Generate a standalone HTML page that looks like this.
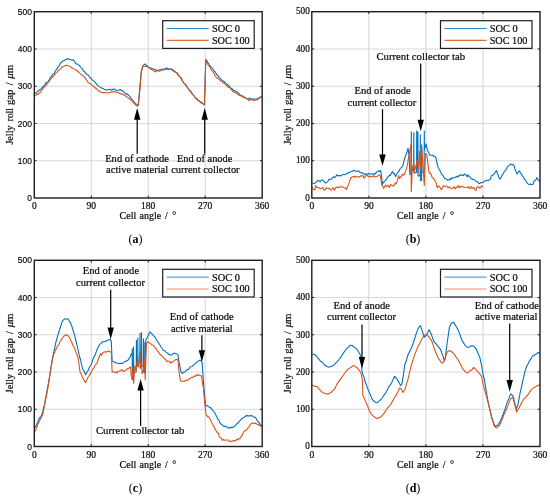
<!DOCTYPE html>
<html><head><meta charset="utf-8"><title>Jelly roll gap vs cell angle</title>
<style>html,body{margin:0;padding:0;background:#fff;width:550px;height:497px;overflow:hidden}svg{display:block}</style>
</head><body>
<svg width="550" height="497" viewBox="0 0 550 497"><defs><clipPath id="cla"><rect x="34.3" y="11.7" width="227.9" height="186.3"/></clipPath><clipPath id="clb"><rect x="311.8" y="11.7" width="228.2" height="186.3"/></clipPath><clipPath id="clc"><rect x="34.3" y="260.3" width="227.9" height="186.2"/></clipPath><clipPath id="cld"><rect x="311.8" y="260.3" width="228.2" height="186.2"/></clipPath></defs><rect width="550" height="497" fill="#fff"/><line x1="91.27" y1="11.70" x2="91.27" y2="198.00" stroke="#d9d9d9" stroke-width="1.15"/>
<line x1="148.25" y1="11.70" x2="148.25" y2="198.00" stroke="#d9d9d9" stroke-width="1.15"/>
<line x1="205.22" y1="11.70" x2="205.22" y2="198.00" stroke="#d9d9d9" stroke-width="1.15"/>
<line x1="34.30" y1="160.74" x2="262.20" y2="160.74" stroke="#d9d9d9" stroke-width="1.15"/>
<line x1="34.30" y1="123.48" x2="262.20" y2="123.48" stroke="#d9d9d9" stroke-width="1.15"/>
<line x1="34.30" y1="86.22" x2="262.20" y2="86.22" stroke="#d9d9d9" stroke-width="1.15"/>
<line x1="34.30" y1="48.96" x2="262.20" y2="48.96" stroke="#d9d9d9" stroke-width="1.15"/>
<polyline points="34.5,94.0 35.6,92.9 36.7,92.5 37.7,91.3 38.8,90.5 39.9,89.8 40.9,89.3 42.0,87.8 43.1,86.4 44.2,85.4 45.3,84.5 46.1,82.3 47.1,82.1 48.1,81.8 49.1,80.0 50.1,78.4 51.7,75.8 52.9,74.0 54.1,73.5 55.3,71.0 56.5,69.6 57.8,67.6 59.0,66.0 60.6,62.7 61.8,62.2 63.0,60.7 64.2,60.5 65.4,59.7 66.6,59.4 67.8,58.3 69.0,59.3 70.2,59.6 71.3,59.7 72.3,60.3 73.4,59.8 74.7,61.9 76.1,64.0 77.4,64.0 78.7,64.9 79.9,66.1 81.1,67.8 82.3,68.8 83.5,71.2 84.7,71.8 85.9,73.3 87.1,74.7 88.3,75.0 90.0,77.7 91.2,78.4 92.4,80.1 93.6,80.9 94.8,82.1 96.0,83.3 97.3,85.1 98.5,86.1 99.7,86.9 100.9,87.3 102.1,88.3 103.3,88.6 104.5,89.4 105.7,89.9 107.2,90.0 108.7,89.5 110.2,89.2 111.7,90.2 113.0,89.3 114.2,88.9 115.4,89.8 116.6,90.5 117.8,90.7 119.0,89.9 120.2,89.5 121.4,90.7 122.6,90.5 123.8,92.1 125.0,93.2 126.2,94.1 127.4,93.9 128.6,95.6 129.9,96.3 131.1,98.5 132.3,99.7 133.5,101.4 134.7,102.7 135.9,104.0 137.1,104.4 138.3,105.4 140.1,84.1 141.3,71.0 143.1,65.3 144.1,64.6 145.0,64.0 145.9,64.9 146.8,65.3 148.6,67.4 149.8,68.0 151.1,68.1 152.3,68.8 153.5,69.0 154.7,69.6 155.9,69.7 157.1,70.5 158.3,70.2 159.5,69.8 160.7,70.0 161.9,68.8 163.1,70.0 164.3,68.9 165.5,68.3 166.7,68.1 167.9,68.6 169.1,68.9 170.4,69.1 171.6,69.1 172.7,69.6 173.7,70.8 174.8,71.0 175.8,72.5 177.2,72.9 178.6,75.2 180.0,76.9 181.2,77.7 182.4,80.5 183.7,83.1 184.9,83.7 186.1,85.4 187.3,87.4 188.5,88.7 189.7,90.5 190.9,91.2 192.1,93.2 193.3,95.0 194.5,96.4 195.7,98.1 196.9,98.2 198.1,100.3 199.2,100.6 200.3,102.0 201.5,102.0 202.6,103.6 203.6,104.2 204.5,105.0 205.1,82.0 205.8,59.2 206.8,60.6 207.7,62.4 209.0,64.2 210.3,66.1 211.6,67.6 212.9,69.0 214.1,70.8 215.4,72.2 216.7,74.8 218.0,75.6 219.3,77.6 220.6,79.0 221.9,80.1 223.1,81.0 224.4,81.7 225.7,83.4 227.0,84.2 228.3,85.5 229.6,86.5 230.9,88.2 232.2,88.7 233.4,90.6 234.7,90.6 236.0,91.3 237.3,92.2 238.6,93.4 239.9,94.7 241.2,95.3 242.5,96.0 243.8,96.6 245.0,97.4 246.3,98.3 247.6,99.2 248.9,98.4 250.2,98.4 251.5,99.2 252.8,98.8 254.1,99.5 255.3,99.0 256.6,98.7 257.9,98.3 259.2,97.7 260.5,96.9 262.0,96.3" fill="none" stroke="#0072BD" stroke-width="1.10" stroke-linejoin="round" clip-path="url(#cla)"/>
<polyline points="34.5,95.8 35.7,95.7 36.8,93.8 38.0,94.5 39.3,92.9 40.7,92.0 42.0,89.8 43.4,88.0 44.7,86.7 46.1,85.1 47.4,83.1 48.8,81.9 50.1,79.7 51.4,78.0 52.8,76.5 54.1,75.4 55.4,73.4 56.8,72.4 58.1,71.0 59.5,69.7 60.8,68.6 62.2,66.9 63.5,66.6 64.9,65.8 66.2,65.4 67.4,65.5 68.6,65.8 69.7,66.0 70.7,66.9 71.8,67.9 72.9,68.2 74.0,68.9 75.2,69.3 76.3,70.1 77.5,71.0 78.7,72.2 79.9,73.4 81.1,74.2 82.3,75.7 83.5,75.7 84.7,77.8 85.9,79.0 87.1,80.8 88.3,82.7 90.0,83.3 91.2,84.5 92.4,85.3 93.6,86.5 94.8,87.5 96.0,88.5 97.2,89.6 98.5,90.5 99.7,91.7 100.9,91.9 102.1,92.6 103.3,92.6 104.5,92.6 105.7,92.8 106.9,92.7 108.1,93.1 109.3,92.6 110.5,92.3 111.8,91.8 113.0,92.1 114.2,91.5 115.4,91.8 116.6,92.5 117.8,92.5 119.0,92.9 120.2,93.7 121.4,93.6 122.6,94.6 123.8,94.7 125.0,95.4 126.2,96.5 127.4,97.3 128.6,97.9 129.8,99.4 131.1,100.0 132.3,101.0 133.5,103.0 134.7,104.1 135.9,105.4 137.1,106.3 138.3,104.4 140.1,88.1 141.3,72.4 143.1,65.9 144.3,66.2 145.6,66.4 146.7,66.3 147.7,67.5 148.8,67.5 149.8,68.2 151.0,69.4 152.2,69.5 153.5,70.5 154.7,71.6 155.9,71.6 157.1,70.2 158.3,70.9 159.5,71.3 160.7,70.6 161.9,70.0 163.1,70.0 164.3,69.5 165.5,69.5 166.7,69.1 167.9,69.7 169.1,69.4 170.4,69.4 171.6,69.8 172.7,70.8 173.7,71.4 174.8,71.9 175.8,72.0 177.2,73.9 178.6,75.8 180.0,77.0 181.2,78.7 182.4,81.0 183.7,82.9 184.9,84.0 186.1,85.7 187.3,87.4 188.5,89.3 189.7,91.0 190.9,92.1 192.1,94.2 193.3,95.1 194.5,96.5 195.7,98.1 196.9,99.3 198.1,100.7 199.2,101.1 200.3,102.1 201.5,103.3 202.6,103.5 204.3,104.3 205.1,83.1 205.8,60.0 206.9,62.4 207.9,64.5 209.0,65.8 210.3,67.5 211.6,70.7 212.8,71.0 214.1,74.0 215.4,76.0 216.7,77.9 218.0,78.4 219.3,79.6 220.6,80.8 221.9,81.4 223.1,82.9 224.4,83.5 225.7,84.9 226.8,85.4 227.9,87.1 229.0,87.5 230.2,88.0 231.3,89.7 232.4,91.0 233.5,91.9 234.8,92.6 236.1,93.0 237.3,93.9 238.6,95.0 239.9,95.5 241.2,96.0 242.5,96.8 243.8,97.6 245.1,98.0 246.3,98.3 247.6,98.9 248.9,100.8 250.2,99.5 251.5,99.7 252.8,99.9 254.0,100.9 255.3,99.9 256.6,100.0 258.0,99.4 259.3,98.0 260.6,97.6 262.0,97.0" fill="none" stroke="#D95319" stroke-width="1.10" stroke-linejoin="round" clip-path="url(#cla)"/>
<line x1="137.20" y1="153.80" x2="137.20" y2="118.70" stroke="#000" stroke-width="1.2"/>
<polygon points="134.00,119.70 140.40,119.70 137.20,108.10" fill="#000"/>
<line x1="204.70" y1="153.80" x2="204.70" y2="118.70" stroke="#000" stroke-width="1.2"/>
<polygon points="201.50,119.70 207.90,119.70 204.70,108.10" fill="#000"/>
<text x="105.2" y="161.5" font-size="9.70" text-anchor="start" font-family="'Liberation Serif', serif" textLength="63.7" lengthAdjust="spacingAndGlyphs" stroke="#222" stroke-width="0.22">End of cathode</text>
<text x="106.1" y="173.0" font-size="9.70" text-anchor="start" font-family="'Liberation Serif', serif" textLength="62.1" lengthAdjust="spacingAndGlyphs" stroke="#222" stroke-width="0.22">active material</text>
<text x="177.0" y="161.5" font-size="9.70" text-anchor="start" font-family="'Liberation Serif', serif" textLength="55.3" lengthAdjust="spacingAndGlyphs" stroke="#222" stroke-width="0.22">End of anode</text>
<text x="171.2" y="173.0" font-size="9.70" text-anchor="start" font-family="'Liberation Serif', serif" textLength="68.4" lengthAdjust="spacingAndGlyphs" stroke="#222" stroke-width="0.22">current collector</text>
<line x1="91.27" y1="198.00" x2="91.27" y2="195.70" stroke="#1e1e1e" stroke-width="1"/>
<line x1="91.27" y1="11.70" x2="91.27" y2="14.00" stroke="#1e1e1e" stroke-width="1"/>
<line x1="148.25" y1="198.00" x2="148.25" y2="195.70" stroke="#1e1e1e" stroke-width="1"/>
<line x1="148.25" y1="11.70" x2="148.25" y2="14.00" stroke="#1e1e1e" stroke-width="1"/>
<line x1="205.22" y1="198.00" x2="205.22" y2="195.70" stroke="#1e1e1e" stroke-width="1"/>
<line x1="205.22" y1="11.70" x2="205.22" y2="14.00" stroke="#1e1e1e" stroke-width="1"/>
<line x1="34.30" y1="160.74" x2="36.60" y2="160.74" stroke="#1e1e1e" stroke-width="1"/>
<line x1="262.20" y1="160.74" x2="259.90" y2="160.74" stroke="#1e1e1e" stroke-width="1"/>
<line x1="34.30" y1="123.48" x2="36.60" y2="123.48" stroke="#1e1e1e" stroke-width="1"/>
<line x1="262.20" y1="123.48" x2="259.90" y2="123.48" stroke="#1e1e1e" stroke-width="1"/>
<line x1="34.30" y1="86.22" x2="36.60" y2="86.22" stroke="#1e1e1e" stroke-width="1"/>
<line x1="262.20" y1="86.22" x2="259.90" y2="86.22" stroke="#1e1e1e" stroke-width="1"/>
<line x1="34.30" y1="48.96" x2="36.60" y2="48.96" stroke="#1e1e1e" stroke-width="1"/>
<line x1="262.20" y1="48.96" x2="259.90" y2="48.96" stroke="#1e1e1e" stroke-width="1"/>
<rect x="34.30" y="11.70" width="227.90" height="186.30" fill="none" stroke="#1e1e1e" stroke-width="1.4"/>
<rect x="162.70" y="20.70" width="91.50" height="27.70" fill="#fff" stroke="#1e1e1e" stroke-width="1.2"/>
<line x1="166.70" y1="28.50" x2="208.70" y2="28.50" stroke="#0072BD" stroke-width="1.1" stroke-opacity="0.85"/>
<line x1="166.70" y1="40.40" x2="208.70" y2="40.40" stroke="#D95319" stroke-width="1.1" stroke-opacity="0.85"/>
<text x="211.9" y="31.9" font-size="10.00" text-anchor="start" font-family="'Liberation Serif', serif" textLength="28.0" lengthAdjust="spacingAndGlyphs" stroke="#222" stroke-width="0.22">SOC 0</text>
<text x="211.9" y="43.7" font-size="10.00" text-anchor="start" font-family="'Liberation Serif', serif" textLength="37.7" lengthAdjust="spacingAndGlyphs" stroke="#222" stroke-width="0.22">SOC 100</text>
<text x="34.3" y="209.1" font-size="9.50" text-anchor="middle" font-family="'Liberation Serif', serif" stroke="#222" stroke-width="0.22">0</text>
<text x="91.3" y="209.1" font-size="9.50" text-anchor="middle" font-family="'Liberation Serif', serif" stroke="#222" stroke-width="0.22">90</text>
<text x="148.2" y="209.1" font-size="9.50" text-anchor="middle" font-family="'Liberation Serif', serif" stroke="#222" stroke-width="0.22">180</text>
<text x="205.2" y="209.1" font-size="9.50" text-anchor="middle" font-family="'Liberation Serif', serif" stroke="#222" stroke-width="0.22">270</text>
<text x="262.2" y="209.1" font-size="9.50" text-anchor="middle" font-family="'Liberation Serif', serif" stroke="#222" stroke-width="0.22">360</text>
<text x="31.9" y="201.0" font-size="9.30" text-anchor="end" font-family="'Liberation Sans', sans-serif" textLength="4.7" lengthAdjust="spacingAndGlyphs" stroke="#222" stroke-width="0.22">0</text>
<text x="31.9" y="163.7" font-size="9.30" text-anchor="end" font-family="'Liberation Sans', sans-serif" textLength="14.1" lengthAdjust="spacingAndGlyphs" stroke="#222" stroke-width="0.22">100</text>
<text x="31.9" y="126.5" font-size="9.30" text-anchor="end" font-family="'Liberation Sans', sans-serif" textLength="14.1" lengthAdjust="spacingAndGlyphs" stroke="#222" stroke-width="0.22">200</text>
<text x="31.9" y="89.2" font-size="9.30" text-anchor="end" font-family="'Liberation Sans', sans-serif" textLength="14.1" lengthAdjust="spacingAndGlyphs" stroke="#222" stroke-width="0.22">300</text>
<text x="31.9" y="52.0" font-size="9.30" text-anchor="end" font-family="'Liberation Sans', sans-serif" textLength="14.1" lengthAdjust="spacingAndGlyphs" stroke="#222" stroke-width="0.22">400</text>
<text x="31.9" y="14.7" font-size="9.30" text-anchor="end" font-family="'Liberation Sans', sans-serif" textLength="14.1" lengthAdjust="spacingAndGlyphs" stroke="#222" stroke-width="0.22">500</text>
<text x="119.5" y="219.2" font-size="9.70" text-anchor="start" font-family="'Liberation Serif', serif" textLength="16.8" lengthAdjust="spacingAndGlyphs" stroke="#222" stroke-width="0.22">Cell</text>
<text x="139.5" y="219.2" font-size="9.70" text-anchor="start" font-family="'Liberation Serif', serif" textLength="21.6" lengthAdjust="spacingAndGlyphs" stroke="#222" stroke-width="0.22">angle</text>
<text x="166.3" y="219.2" font-size="9.70" text-anchor="middle" font-family="'Liberation Serif', serif" stroke="#222" stroke-width="0.22">/</text>
<text x="174.3" y="219.2" font-size="9.70" text-anchor="middle" font-family="'Liberation Serif', serif" stroke="#222" stroke-width="0.22">°</text>
<text x="0" y="0" font-size="9.7" text-anchor="middle" font-family="'Liberation Serif', serif" textLength="13.9" lengthAdjust="spacingAndGlyphs" stroke="#222" stroke-width="0.22" transform="translate(12.8,71.8) rotate(-90)"><tspan font-style="italic">μ</tspan>m</text>
<text x="0" y="0" font-size="9.7" text-anchor="middle" font-family="'Liberation Serif', serif" stroke="#222" stroke-width="0.22" transform="translate(12.8,84.0) rotate(-90)">/</text>
<text x="0" y="0" font-size="9.7" text-anchor="middle" font-family="'Liberation Serif', serif" textLength="15.6" lengthAdjust="spacingAndGlyphs" stroke="#222" stroke-width="0.22" transform="translate(12.8,97.3) rotate(-90)">gap</text>
<text x="0" y="0" font-size="9.7" text-anchor="middle" font-family="'Liberation Serif', serif" textLength="13.1" lengthAdjust="spacingAndGlyphs" stroke="#222" stroke-width="0.22" transform="translate(12.8,114.7) rotate(-90)">roll</text>
<text x="0" y="0" font-size="9.7" text-anchor="middle" font-family="'Liberation Serif', serif" textLength="19.2" lengthAdjust="spacingAndGlyphs" stroke="#222" stroke-width="0.22" transform="translate(12.8,135.0) rotate(-90)">Jelly</text>
<text x="135.5" y="243.0" font-size="12" text-anchor="middle" font-family="'Liberation Serif', serif">(<tspan font-weight="bold">a</tspan>)</text>
<line x1="368.85" y1="11.70" x2="368.85" y2="198.00" stroke="#d9d9d9" stroke-width="1.15"/>
<line x1="425.90" y1="11.70" x2="425.90" y2="198.00" stroke="#d9d9d9" stroke-width="1.15"/>
<line x1="482.95" y1="11.70" x2="482.95" y2="198.00" stroke="#d9d9d9" stroke-width="1.15"/>
<line x1="311.80" y1="160.74" x2="540.00" y2="160.74" stroke="#d9d9d9" stroke-width="1.15"/>
<line x1="311.80" y1="123.48" x2="540.00" y2="123.48" stroke="#d9d9d9" stroke-width="1.15"/>
<line x1="311.80" y1="86.22" x2="540.00" y2="86.22" stroke="#d9d9d9" stroke-width="1.15"/>
<line x1="311.80" y1="48.96" x2="540.00" y2="48.96" stroke="#d9d9d9" stroke-width="1.15"/>
<polyline points="312.3,183.3 313.2,183.2 314.2,183.6 315.1,182.9 316.4,182.3 317.6,180.4 318.5,180.8 319.3,180.8 320.2,181.8 321.4,180.1 322.7,180.0 323.8,181.2 324.8,182.3 325.9,183.0 327.0,182.1 328.0,181.4 329.1,178.9 330.1,179.6 331.0,179.2 331.9,178.5 332.9,177.5 333.8,176.5 334.8,177.6 335.8,176.5 336.7,174.8 337.6,176.0 338.4,175.2 339.3,175.9 340.2,175.6 341.2,175.9 342.2,174.9 343.1,174.5 344.1,174.5 345.0,174.8 345.9,174.5 346.9,173.3 347.8,173.4 348.8,172.2 349.8,172.3 350.7,171.9 351.8,171.3 352.8,171.1 353.9,170.1 355.0,171.0 356.1,171.0 357.3,171.5 358.4,171.0 359.3,171.5 360.3,172.6 361.2,172.5 362.2,172.7 363.1,173.3 364.1,174.2 365.1,173.9 366.0,174.5 366.9,173.8 367.9,174.4 368.9,173.5 369.8,174.0 370.8,174.0 371.7,173.7 372.7,174.0 373.6,175.1 374.6,173.4 375.5,173.6 376.4,172.3 377.4,171.3 378.3,170.9 379.2,171.7 380.4,170.5 381.0,172.4 382.5,184.2 383.6,181.9 384.7,181.4 385.6,180.0 386.5,179.5 387.4,177.0 388.3,176.7 389.4,175.1 390.4,175.5 391.4,173.0 392.5,171.5 393.5,173.6 394.5,173.4 395.5,176.7 396.8,174.0 398.0,172.3 399.2,170.7 400.4,168.3 401.6,167.3 402.8,165.8 404.3,159.8 405.3,156.0 406.2,154.3 407.2,151.4 408.0,148.4 409.0,155.1 409.9,174.4 411.1,173.9 411.3,131.8 411.4,169.6 412.5,170.5 413.6,169.6 413.8,132.8 413.9,172.7 414.8,172.9 415.7,172.5 416.6,172.4 416.7,131.0 416.9,168.5 417.8,168.2 417.9,131.8 418.1,176.1 419.1,175.8 420.1,175.0 420.3,134.9 420.4,180.5 421.6,180.4 421.7,144.8 421.9,171.6 423.0,172.2 424.1,172.3 424.3,131.0 424.4,149.6 426.1,143.9 427.5,150.7 428.6,152.4 429.7,155.0 430.8,155.2 431.9,155.2 432.9,155.1 433.9,156.4 434.9,156.4 435.9,157.7 437.2,164.3 438.4,168.0 439.7,170.0 440.9,172.7 442.1,174.9 443.3,175.9 444.5,178.3 445.7,178.6 446.9,179.4 447.8,180.4 448.7,179.7 449.6,178.8 450.5,179.9 451.4,177.9 452.4,178.4 453.3,177.7 454.2,177.6 455.2,177.1 456.1,177.2 457.1,176.1 458.0,177.0 459.0,175.6 459.9,175.4 460.8,174.6 461.7,175.4 462.6,174.9 463.5,175.6 464.4,173.9 465.3,174.7 466.2,175.2 467.1,176.8 468.0,174.7 469.0,176.7 469.9,176.8 470.8,178.1 471.7,178.9 472.6,179.4 473.5,179.2 474.4,179.9 475.3,180.5 476.2,181.3 477.1,181.7 478.0,182.2 478.9,183.6 479.8,183.5 480.7,182.5 481.9,182.8 483.1,182.4 484.4,181.0 485.6,180.9 486.8,180.1 488.0,180.9 489.2,179.7 490.4,179.2 491.3,175.7 492.2,175.6 493.1,174.9 494.1,174.3 495.3,172.1 496.5,170.5 497.7,174.3 498.6,176.4 499.5,178.9 500.4,179.0 501.3,177.0 502.3,174.7 503.3,173.8 504.3,171.4 505.3,170.7 506.3,169.3 507.3,167.0 508.3,165.9 509.4,165.1 510.4,164.0 511.3,164.2 512.2,165.0 513.1,164.5 514.0,165.5 515.0,169.0 516.0,171.6 517.0,174.1 518.2,172.1 519.4,170.9 520.5,172.8 521.5,174.1 522.5,176.2 523.6,177.2 524.5,179.5 525.5,179.9 526.4,182.1 527.3,183.2 528.3,184.1 529.3,184.8 530.3,183.8 531.3,184.7 532.3,184.4 533.3,183.9 534.2,180.7 535.1,180.6 536.0,179.7 536.9,177.6 537.9,179.7 539.0,180.4 540.0,182.3" fill="none" stroke="#0072BD" stroke-width="1.10" stroke-linejoin="round" clip-path="url(#clb)"/>
<polyline points="312.3,187.1 313.1,189.1 313.8,190.0 314.8,189.9 315.7,185.6 316.7,187.4 317.6,187.5 318.6,187.5 319.6,188.4 320.5,188.6 321.5,188.7 322.8,187.6 324.0,189.9 325.2,189.6 326.5,187.9 327.5,188.2 328.4,188.6 329.4,188.2 330.4,189.7 331.4,190.3 332.4,187.9 333.5,188.0 334.5,190.4 335.5,187.8 336.5,187.3 337.5,187.5 338.5,187.0 339.5,187.6 340.5,186.9 341.5,186.3 342.5,187.1 343.6,187.5 344.6,187.9 345.6,188.2 346.5,189.4 347.3,187.0 348.2,185.4 349.4,182.4 350.7,178.0 351.6,177.2 352.4,176.8 353.3,176.2 354.6,177.4 355.8,176.2 356.8,176.8 357.8,177.1 358.9,176.9 359.9,176.6 360.9,175.8 361.9,176.2 362.9,175.3 364.0,178.2 365.0,176.9 366.0,175.2 367.0,175.0 368.0,176.4 369.1,176.9 370.1,176.0 371.1,176.8 372.1,176.8 373.1,176.1 374.2,176.6 375.2,176.9 376.2,176.6 377.4,176.2 378.6,175.4 379.5,175.3 380.4,175.9 381.6,184.6 382.6,185.9 383.7,188.5 384.7,186.7 385.6,185.1 386.5,186.5 387.4,186.1 388.3,185.1 389.5,187.6 390.7,184.6 391.9,185.1 393.1,186.0 394.1,185.8 395.1,183.0 396.1,183.7 397.4,180.6 398.6,175.6 399.6,178.5 400.6,177.0 401.6,176.0 402.5,174.0 403.4,175.3 404.3,174.8 405.4,171.6 406.5,168.6 407.6,163.5 408.7,156.8 410.1,149.3 410.9,145.1 411.3,191.5 412.3,169.2 413.1,165.2 413.8,162.8 414.5,171.4 415.9,166.1 417.4,159.9 418.1,172.9 419.6,151.5 420.3,167.4 421.7,147.1 423.2,168.6 424.3,185.5 425.4,153.9 426.8,154.0 428.5,168.1 429.2,173.3 430.0,172.9 430.9,173.6 431.9,177.0 432.8,178.1 433.7,178.6 434.9,181.0 436.0,182.4 437.2,187.6 438.4,186.1 439.7,186.8 440.6,188.4 441.5,189.6 442.4,187.9 443.3,185.6 444.3,186.1 445.2,186.5 446.2,186.2 447.1,186.2 448.1,187.9 449.1,186.8 450.1,187.4 451.1,188.5 452.2,188.7 453.2,187.6 454.2,186.6 455.2,189.0 456.3,187.4 457.3,187.4 458.3,185.4 459.3,188.0 460.4,186.6 461.4,186.3 462.4,186.5 463.3,187.1 464.3,187.2 465.2,187.5 466.2,187.8 467.2,187.5 468.2,186.6 469.1,188.4 470.1,188.2 471.1,186.6 472.0,188.1 472.9,188.4 473.8,187.5 474.7,189.6 475.9,190.4 477.1,186.7 478.0,187.1 478.9,187.1 479.8,188.5 480.7,187.2 481.9,185.8 483.0,187.1" fill="none" stroke="#D95319" stroke-width="1.10" stroke-linejoin="round" clip-path="url(#clb)"/>
<line x1="420.70" y1="63.40" x2="420.70" y2="120.70" stroke="#000" stroke-width="1.2"/>
<polygon points="417.50,119.70 423.90,119.70 420.70,131.30" fill="#000"/>
<line x1="382.50" y1="109.20" x2="382.50" y2="155.40" stroke="#000" stroke-width="1.2"/>
<polygon points="379.30,154.40 385.70,154.40 382.50,166.00" fill="#000"/>
<text x="376.4" y="60.4" font-size="9.70" text-anchor="start" font-family="'Liberation Serif', serif" textLength="88.8" lengthAdjust="spacingAndGlyphs" stroke="#222" stroke-width="0.22">Current collector tab</text>
<text x="354.5" y="94.2" font-size="9.70" text-anchor="start" font-family="'Liberation Serif', serif" textLength="56.2" lengthAdjust="spacingAndGlyphs" stroke="#222" stroke-width="0.22">End of anode</text>
<text x="347.6" y="105.6" font-size="9.70" text-anchor="start" font-family="'Liberation Serif', serif" textLength="68.7" lengthAdjust="spacingAndGlyphs" stroke="#222" stroke-width="0.22">current collector</text>
<line x1="368.85" y1="198.00" x2="368.85" y2="195.70" stroke="#1e1e1e" stroke-width="1"/>
<line x1="368.85" y1="11.70" x2="368.85" y2="14.00" stroke="#1e1e1e" stroke-width="1"/>
<line x1="425.90" y1="198.00" x2="425.90" y2="195.70" stroke="#1e1e1e" stroke-width="1"/>
<line x1="425.90" y1="11.70" x2="425.90" y2="14.00" stroke="#1e1e1e" stroke-width="1"/>
<line x1="482.95" y1="198.00" x2="482.95" y2="195.70" stroke="#1e1e1e" stroke-width="1"/>
<line x1="482.95" y1="11.70" x2="482.95" y2="14.00" stroke="#1e1e1e" stroke-width="1"/>
<line x1="311.80" y1="160.74" x2="314.10" y2="160.74" stroke="#1e1e1e" stroke-width="1"/>
<line x1="540.00" y1="160.74" x2="537.70" y2="160.74" stroke="#1e1e1e" stroke-width="1"/>
<line x1="311.80" y1="123.48" x2="314.10" y2="123.48" stroke="#1e1e1e" stroke-width="1"/>
<line x1="540.00" y1="123.48" x2="537.70" y2="123.48" stroke="#1e1e1e" stroke-width="1"/>
<line x1="311.80" y1="86.22" x2="314.10" y2="86.22" stroke="#1e1e1e" stroke-width="1"/>
<line x1="540.00" y1="86.22" x2="537.70" y2="86.22" stroke="#1e1e1e" stroke-width="1"/>
<line x1="311.80" y1="48.96" x2="314.10" y2="48.96" stroke="#1e1e1e" stroke-width="1"/>
<line x1="540.00" y1="48.96" x2="537.70" y2="48.96" stroke="#1e1e1e" stroke-width="1"/>
<rect x="311.80" y="11.70" width="228.20" height="186.30" fill="none" stroke="#1e1e1e" stroke-width="1.4"/>
<rect x="440.50" y="20.70" width="91.50" height="27.70" fill="#fff" stroke="#1e1e1e" stroke-width="1.2"/>
<line x1="444.50" y1="28.50" x2="486.50" y2="28.50" stroke="#0072BD" stroke-width="1.1" stroke-opacity="0.85"/>
<line x1="444.50" y1="40.40" x2="486.50" y2="40.40" stroke="#D95319" stroke-width="1.1" stroke-opacity="0.85"/>
<text x="489.7" y="31.9" font-size="10.00" text-anchor="start" font-family="'Liberation Serif', serif" textLength="28.0" lengthAdjust="spacingAndGlyphs" stroke="#222" stroke-width="0.22">SOC 0</text>
<text x="489.7" y="43.7" font-size="10.00" text-anchor="start" font-family="'Liberation Serif', serif" textLength="37.7" lengthAdjust="spacingAndGlyphs" stroke="#222" stroke-width="0.22">SOC 100</text>
<text x="311.8" y="209.1" font-size="9.50" text-anchor="middle" font-family="'Liberation Serif', serif" stroke="#222" stroke-width="0.22">0</text>
<text x="368.9" y="209.1" font-size="9.50" text-anchor="middle" font-family="'Liberation Serif', serif" stroke="#222" stroke-width="0.22">90</text>
<text x="425.9" y="209.1" font-size="9.50" text-anchor="middle" font-family="'Liberation Serif', serif" stroke="#222" stroke-width="0.22">180</text>
<text x="483.0" y="209.1" font-size="9.50" text-anchor="middle" font-family="'Liberation Serif', serif" stroke="#222" stroke-width="0.22">270</text>
<text x="540.0" y="209.1" font-size="9.50" text-anchor="middle" font-family="'Liberation Serif', serif" stroke="#222" stroke-width="0.22">360</text>
<text x="309.8" y="200.7" font-size="9.50" text-anchor="end" font-family="'Liberation Serif', serif" textLength="4.6" lengthAdjust="spacingAndGlyphs" stroke="#222" stroke-width="0.22">0</text>
<text x="309.8" y="163.4" font-size="9.50" text-anchor="end" font-family="'Liberation Serif', serif" textLength="13.8" lengthAdjust="spacingAndGlyphs" stroke="#222" stroke-width="0.22">100</text>
<text x="309.8" y="126.2" font-size="9.50" text-anchor="end" font-family="'Liberation Serif', serif" textLength="13.8" lengthAdjust="spacingAndGlyphs" stroke="#222" stroke-width="0.22">200</text>
<text x="309.8" y="88.9" font-size="9.50" text-anchor="end" font-family="'Liberation Serif', serif" textLength="13.8" lengthAdjust="spacingAndGlyphs" stroke="#222" stroke-width="0.22">300</text>
<text x="309.8" y="51.7" font-size="9.50" text-anchor="end" font-family="'Liberation Serif', serif" textLength="13.8" lengthAdjust="spacingAndGlyphs" stroke="#222" stroke-width="0.22">400</text>
<text x="309.8" y="14.4" font-size="9.50" text-anchor="end" font-family="'Liberation Serif', serif" textLength="13.8" lengthAdjust="spacingAndGlyphs" stroke="#222" stroke-width="0.22">500</text>
<text x="397.1" y="219.2" font-size="9.70" text-anchor="start" font-family="'Liberation Serif', serif" textLength="16.8" lengthAdjust="spacingAndGlyphs" stroke="#222" stroke-width="0.22">Cell</text>
<text x="417.1" y="219.2" font-size="9.70" text-anchor="start" font-family="'Liberation Serif', serif" textLength="21.6" lengthAdjust="spacingAndGlyphs" stroke="#222" stroke-width="0.22">angle</text>
<text x="444.0" y="219.2" font-size="9.70" text-anchor="middle" font-family="'Liberation Serif', serif" stroke="#222" stroke-width="0.22">/</text>
<text x="452.0" y="219.2" font-size="9.70" text-anchor="middle" font-family="'Liberation Serif', serif" stroke="#222" stroke-width="0.22">°</text>
<text x="0" y="0" font-size="9.7" text-anchor="middle" font-family="'Liberation Serif', serif" textLength="13.9" lengthAdjust="spacingAndGlyphs" stroke="#222" stroke-width="0.22" transform="translate(291.1,71.8) rotate(-90)"><tspan font-style="italic">μ</tspan>m</text>
<text x="0" y="0" font-size="9.7" text-anchor="middle" font-family="'Liberation Serif', serif" stroke="#222" stroke-width="0.22" transform="translate(291.1,84.0) rotate(-90)">/</text>
<text x="0" y="0" font-size="9.7" text-anchor="middle" font-family="'Liberation Serif', serif" textLength="15.6" lengthAdjust="spacingAndGlyphs" stroke="#222" stroke-width="0.22" transform="translate(291.1,97.3) rotate(-90)">gap</text>
<text x="0" y="0" font-size="9.7" text-anchor="middle" font-family="'Liberation Serif', serif" textLength="13.1" lengthAdjust="spacingAndGlyphs" stroke="#222" stroke-width="0.22" transform="translate(291.1,114.7) rotate(-90)">roll</text>
<text x="0" y="0" font-size="9.7" text-anchor="middle" font-family="'Liberation Serif', serif" textLength="19.2" lengthAdjust="spacingAndGlyphs" stroke="#222" stroke-width="0.22" transform="translate(291.1,135.0) rotate(-90)">Jelly</text>
<text x="413.0" y="243.0" font-size="12" text-anchor="middle" font-family="'Liberation Serif', serif">(<tspan font-weight="bold">b</tspan>)</text>
<line x1="91.27" y1="260.30" x2="91.27" y2="446.50" stroke="#d9d9d9" stroke-width="1.15"/>
<line x1="148.25" y1="260.30" x2="148.25" y2="446.50" stroke="#d9d9d9" stroke-width="1.15"/>
<line x1="205.22" y1="260.30" x2="205.22" y2="446.50" stroke="#d9d9d9" stroke-width="1.15"/>
<line x1="34.30" y1="409.26" x2="262.20" y2="409.26" stroke="#d9d9d9" stroke-width="1.15"/>
<line x1="34.30" y1="372.02" x2="262.20" y2="372.02" stroke="#d9d9d9" stroke-width="1.15"/>
<line x1="34.30" y1="334.78" x2="262.20" y2="334.78" stroke="#d9d9d9" stroke-width="1.15"/>
<line x1="34.30" y1="297.54" x2="262.20" y2="297.54" stroke="#d9d9d9" stroke-width="1.15"/>
<polyline points="35.0,427.5 35.3,427.2 36.4,425.1 37.5,422.8 38.6,419.6 39.8,417.6 41.0,416.8 42.1,413.8 43.2,409.6 44.3,405.5 45.5,398.9 46.6,392.8 47.8,386.3 48.9,380.8 50.1,373.2 51.3,365.2 52.7,357.2 54.1,351.1 55.5,343.9 57.0,338.1 58.4,333.3 59.8,329.2 61.2,324.4 62.6,320.6 64.0,319.5 65.4,318.7 66.8,319.0 68.0,318.8 69.1,320.8 70.3,322.3 71.7,325.7 73.1,330.6 74.3,334.1 75.5,338.8 76.7,343.9 78.1,350.0 79.5,356.5 80.6,360.0 81.7,365.3 82.8,369.4 84.2,371.3 85.6,374.7 86.7,372.6 87.7,371.2 88.9,368.6 90.1,366.0 91.3,364.6 92.7,360.0 94.1,356.5 95.5,354.1 96.9,349.8 98.3,347.1 99.7,344.4 101.1,343.4 102.5,341.7 104.0,341.8 105.4,341.2 106.5,340.9 107.5,340.2 108.9,339.8 110.3,339.4 111.3,341.5 112.1,360.9 113.1,361.7 114.2,361.8 115.2,362.5 116.2,362.9 117.3,363.2 118.4,363.2 119.4,363.7 120.5,363.2 121.6,363.4 122.6,363.2 123.7,362.7 124.8,361.7 125.8,361.5 126.9,360.5 127.9,360.3 128.9,358.6 130.0,357.3 131.3,353.8 132.1,355.4 132.2,348.7 132.3,379.4 133.3,380.3 133.5,347.0 133.7,371.9 134.9,372.1 136.2,371.9 136.4,340.2 136.6,366.0 137.7,365.9 137.8,338.0 137.9,362.6 138.9,362.1 139.8,361.7 140.0,333.4 140.2,368.3 141.3,367.9 141.5,332.5 141.7,366.3 143.3,366.0 143.5,338.9 143.7,372.1 144.8,372.9 144.9,342.5 145.1,361.7 145.8,340.0 147.0,337.9 148.2,335.4 149.1,333.5 150.0,331.9 151.5,333.3 153.0,335.1 154.0,336.1 155.0,337.1 156.2,339.3 157.4,341.0 158.6,343.0 159.8,344.8 161.0,346.8 162.2,348.5 163.4,350.5 164.7,350.7 165.9,352.1 167.1,352.9 168.3,353.8 169.5,354.9 170.7,354.8 171.9,355.0 173.1,353.7 174.3,353.0 175.5,353.7 176.7,353.7 178.0,355.2 179.2,363.1 181.0,371.9 182.2,373.5 183.7,372.1 185.2,371.8 186.4,370.2 187.6,369.6 188.8,369.3 190.0,367.1 191.2,366.7 192.4,366.5 193.6,364.9 194.9,363.8 196.1,362.6 197.3,361.9 198.5,360.9 199.7,360.3 200.9,360.4 202.1,362.4 202.7,370.9 204.0,389.1 205.6,406.0 206.8,405.5 208.0,406.2 209.1,407.2 210.2,407.3 211.3,408.6 212.4,409.9 213.4,411.0 214.5,412.6 215.6,414.7 216.6,416.3 217.7,419.1 218.8,419.8 219.8,422.7 220.9,424.0 222.0,424.7 223.0,425.6 224.1,426.7 225.3,426.1 226.5,426.7 227.7,427.4 228.9,428.2 230.1,427.6 231.4,427.4 232.6,427.6 233.8,426.6 234.9,426.3 235.9,424.9 237.0,423.6 238.2,422.9 239.4,421.1 240.6,420.1 241.8,418.2 243.0,418.2 244.2,417.1 245.4,416.5 246.6,415.3 247.8,415.9 249.0,415.9 250.2,415.9 251.4,415.6 252.8,416.3 254.1,417.4 255.5,417.3 256.6,419.5 257.6,421.1 258.7,422.0 259.8,423.9 260.9,425.3 262.0,426.3" fill="none" stroke="#0072BD" stroke-width="1.10" stroke-linejoin="round" clip-path="url(#clc)"/>
<polyline points="35.0,431.2 35.3,431.1 36.3,428.4 37.3,425.5 38.3,423.3 39.5,421.0 40.6,418.6 41.7,416.7 42.8,414.3 44.0,408.0 45.1,402.4 46.1,397.4 47.1,392.4 48.1,386.8 49.2,379.2 50.1,374.2 51.0,368.1 51.8,363.4 52.7,357.9 53.6,354.9 54.6,352.6 55.5,349.4 56.4,349.1 57.2,346.3 58.1,345.8 59.0,344.3 60.0,341.6 60.9,340.5 61.9,338.9 63.0,337.5 64.0,336.0 64.9,335.5 65.9,334.6 66.8,335.4 67.7,335.6 68.7,336.5 69.6,337.5 70.6,340.0 71.7,342.0 72.8,345.2 73.8,346.8 74.9,349.1 75.9,352.1 77.0,354.9 78.1,357.8 80.0,371.8 80.9,373.6 81.9,375.8 82.8,377.9 83.7,379.5 84.7,381.1 85.6,382.6 86.7,380.4 87.7,377.7 88.6,376.8 89.5,374.9 90.4,373.7 91.3,371.5 92.2,370.3 93.2,368.5 94.1,367.9 95.0,365.1 96.0,364.0 96.9,363.7 97.8,361.2 98.8,357.6 99.7,356.1 100.6,353.5 101.6,355.2 102.5,352.8 103.5,352.4 104.4,351.8 105.4,352.1 106.3,351.9 107.3,351.4 108.2,351.1 109.2,351.4 110.3,351.9 111.3,352.1 112.1,371.8 113.3,371.9 114.5,372.5 115.4,372.1 116.2,372.3 117.1,373.1 118.0,371.2 119.1,371.1 120.2,370.9 121.2,369.8 122.3,369.8 123.2,371.5 124.0,371.2 125.0,370.7 125.9,370.3 126.9,369.0 127.8,368.6 128.8,368.5 129.7,367.1 130.6,367.5 131.3,376.4 132.2,379.3 133.1,367.9 133.7,383.5 134.9,365.7 136.1,370.1 137.3,362.1 138.5,367.0 139.7,352.3 140.7,368.0 141.5,362.1 142.1,373.7 143.3,370.5 144.6,359.7 145.2,379.9 146.4,343.8 147.6,341.8 148.6,342.3 149.6,343.0 150.6,343.6 151.7,344.8 152.9,345.0 154.0,346.1 155.0,347.8 156.2,348.7 157.4,350.8 158.6,352.4 159.8,354.0 161.0,355.2 162.2,356.1 163.4,357.4 164.7,359.0 165.9,360.0 167.1,361.6 168.0,361.2 168.9,361.3 169.8,361.5 170.7,363.3 171.6,361.7 172.5,362.1 173.4,361.8 174.3,360.5 175.5,359.8 176.7,359.2 178.0,360.2 179.2,373.1 180.4,380.3 181.3,381.1 182.2,381.2 183.1,381.2 184.0,381.0 184.9,381.2 185.8,380.3 186.7,380.4 187.6,380.2 188.5,379.7 189.4,378.6 190.3,378.5 191.2,377.5 192.1,377.4 193.1,377.5 194.0,375.9 194.9,376.5 195.8,376.1 196.7,374.6 197.6,375.5 198.5,374.8 199.5,375.2 200.5,375.8 201.5,375.7 202.7,385.0 203.2,386.3 204.8,403.4 206.1,415.3 207.1,415.9 208.0,417.2 208.8,416.8 209.6,418.0 210.7,420.3 211.8,422.8 212.9,425.0 214.0,426.5 215.0,429.1 216.1,430.8 217.2,432.7 218.2,432.9 219.3,436.6 220.4,437.7 221.4,438.3 222.5,440.4 223.6,439.4 224.6,440.3 225.7,440.2 226.7,440.0 227.6,439.8 228.6,440.7 229.5,441.5 230.5,441.6 231.5,441.0 232.5,441.2 233.4,440.5 234.4,440.6 235.4,440.9 236.4,439.6 237.3,438.9 238.3,439.8 239.2,438.3 240.2,438.2 241.2,436.6 242.2,435.3 243.2,432.7 244.2,431.3 245.2,430.5 246.2,430.5 247.2,429.0 248.2,427.6 249.3,426.9 250.3,424.5 251.4,423.3 252.4,422.9 253.4,423.3 254.5,423.4 255.5,423.1 256.6,423.9 257.6,424.7 258.7,424.6 259.8,425.8 260.9,426.2 262.0,426.3" fill="none" stroke="#D95319" stroke-width="1.10" stroke-linejoin="round" clip-path="url(#clc)"/>
<line x1="110.70" y1="289.80" x2="110.70" y2="328.60" stroke="#000" stroke-width="1.2"/>
<polygon points="107.50,327.60 113.90,327.60 110.70,339.20" fill="#000"/>
<line x1="201.90" y1="335.30" x2="201.90" y2="351.20" stroke="#000" stroke-width="1.2"/>
<polygon points="198.70,350.20 205.10,350.20 201.90,361.80" fill="#000"/>
<line x1="140.60" y1="426.00" x2="140.60" y2="389.60" stroke="#000" stroke-width="1.2"/>
<polygon points="137.40,390.60 143.80,390.60 140.60,379.00" fill="#000"/>
<text x="82.8" y="274.4" font-size="9.70" text-anchor="start" font-family="'Liberation Serif', serif" textLength="56.3" lengthAdjust="spacingAndGlyphs" stroke="#222" stroke-width="0.22">End of anode</text>
<text x="76.1" y="285.9" font-size="9.70" text-anchor="start" font-family="'Liberation Serif', serif" textLength="68.8" lengthAdjust="spacingAndGlyphs" stroke="#222" stroke-width="0.22">current collector</text>
<text x="169.8" y="320.0" font-size="9.70" text-anchor="start" font-family="'Liberation Serif', serif" textLength="64.0" lengthAdjust="spacingAndGlyphs" stroke="#222" stroke-width="0.22">End of cathode</text>
<text x="170.9" y="331.5" font-size="9.70" text-anchor="start" font-family="'Liberation Serif', serif" textLength="61.8" lengthAdjust="spacingAndGlyphs" stroke="#222" stroke-width="0.22">active material</text>
<text x="96.0" y="434.2" font-size="9.70" text-anchor="start" font-family="'Liberation Serif', serif" textLength="88.4" lengthAdjust="spacingAndGlyphs" stroke="#222" stroke-width="0.22">Current collector tab</text>
<line x1="91.27" y1="446.50" x2="91.27" y2="444.20" stroke="#1e1e1e" stroke-width="1"/>
<line x1="91.27" y1="260.30" x2="91.27" y2="262.60" stroke="#1e1e1e" stroke-width="1"/>
<line x1="148.25" y1="446.50" x2="148.25" y2="444.20" stroke="#1e1e1e" stroke-width="1"/>
<line x1="148.25" y1="260.30" x2="148.25" y2="262.60" stroke="#1e1e1e" stroke-width="1"/>
<line x1="205.22" y1="446.50" x2="205.22" y2="444.20" stroke="#1e1e1e" stroke-width="1"/>
<line x1="205.22" y1="260.30" x2="205.22" y2="262.60" stroke="#1e1e1e" stroke-width="1"/>
<line x1="34.30" y1="409.26" x2="36.60" y2="409.26" stroke="#1e1e1e" stroke-width="1"/>
<line x1="262.20" y1="409.26" x2="259.90" y2="409.26" stroke="#1e1e1e" stroke-width="1"/>
<line x1="34.30" y1="372.02" x2="36.60" y2="372.02" stroke="#1e1e1e" stroke-width="1"/>
<line x1="262.20" y1="372.02" x2="259.90" y2="372.02" stroke="#1e1e1e" stroke-width="1"/>
<line x1="34.30" y1="334.78" x2="36.60" y2="334.78" stroke="#1e1e1e" stroke-width="1"/>
<line x1="262.20" y1="334.78" x2="259.90" y2="334.78" stroke="#1e1e1e" stroke-width="1"/>
<line x1="34.30" y1="297.54" x2="36.60" y2="297.54" stroke="#1e1e1e" stroke-width="1"/>
<line x1="262.20" y1="297.54" x2="259.90" y2="297.54" stroke="#1e1e1e" stroke-width="1"/>
<rect x="34.30" y="260.30" width="227.90" height="186.20" fill="none" stroke="#1e1e1e" stroke-width="1.4"/>
<rect x="162.70" y="269.30" width="91.50" height="27.70" fill="#fff" stroke="#1e1e1e" stroke-width="1.2"/>
<line x1="166.70" y1="277.10" x2="208.70" y2="277.10" stroke="#0072BD" stroke-width="1.1" stroke-opacity="0.65"/>
<line x1="166.70" y1="289.00" x2="208.70" y2="289.00" stroke="#D95319" stroke-width="1.1" stroke-opacity="0.65"/>
<text x="211.9" y="280.5" font-size="10.00" text-anchor="start" font-family="'Liberation Serif', serif" textLength="28.0" lengthAdjust="spacingAndGlyphs" stroke="#222" stroke-width="0.22">SOC 0</text>
<text x="211.9" y="292.3" font-size="10.00" text-anchor="start" font-family="'Liberation Serif', serif" textLength="37.7" lengthAdjust="spacingAndGlyphs" stroke="#222" stroke-width="0.22">SOC 100</text>
<text x="34.3" y="457.6" font-size="9.50" text-anchor="middle" font-family="'Liberation Serif', serif" stroke="#222" stroke-width="0.22">0</text>
<text x="91.3" y="457.6" font-size="9.50" text-anchor="middle" font-family="'Liberation Serif', serif" stroke="#222" stroke-width="0.22">90</text>
<text x="148.2" y="457.6" font-size="9.50" text-anchor="middle" font-family="'Liberation Serif', serif" stroke="#222" stroke-width="0.22">180</text>
<text x="205.2" y="457.6" font-size="9.50" text-anchor="middle" font-family="'Liberation Serif', serif" stroke="#222" stroke-width="0.22">270</text>
<text x="262.2" y="457.6" font-size="9.50" text-anchor="middle" font-family="'Liberation Serif', serif" stroke="#222" stroke-width="0.22">360</text>
<text x="31.9" y="449.5" font-size="9.30" text-anchor="end" font-family="'Liberation Sans', sans-serif" textLength="4.7" lengthAdjust="spacingAndGlyphs" stroke="#222" stroke-width="0.22">0</text>
<text x="31.9" y="412.3" font-size="9.30" text-anchor="end" font-family="'Liberation Sans', sans-serif" textLength="14.1" lengthAdjust="spacingAndGlyphs" stroke="#222" stroke-width="0.22">100</text>
<text x="31.9" y="375.0" font-size="9.30" text-anchor="end" font-family="'Liberation Sans', sans-serif" textLength="14.1" lengthAdjust="spacingAndGlyphs" stroke="#222" stroke-width="0.22">200</text>
<text x="31.9" y="337.8" font-size="9.30" text-anchor="end" font-family="'Liberation Sans', sans-serif" textLength="14.1" lengthAdjust="spacingAndGlyphs" stroke="#222" stroke-width="0.22">300</text>
<text x="31.9" y="300.5" font-size="9.30" text-anchor="end" font-family="'Liberation Sans', sans-serif" textLength="14.1" lengthAdjust="spacingAndGlyphs" stroke="#222" stroke-width="0.22">400</text>
<text x="31.9" y="263.3" font-size="9.30" text-anchor="end" font-family="'Liberation Sans', sans-serif" textLength="14.1" lengthAdjust="spacingAndGlyphs" stroke="#222" stroke-width="0.22">500</text>
<text x="119.5" y="467.7" font-size="9.70" text-anchor="start" font-family="'Liberation Serif', serif" textLength="16.8" lengthAdjust="spacingAndGlyphs" stroke="#222" stroke-width="0.22">Cell</text>
<text x="139.5" y="467.7" font-size="9.70" text-anchor="start" font-family="'Liberation Serif', serif" textLength="21.6" lengthAdjust="spacingAndGlyphs" stroke="#222" stroke-width="0.22">angle</text>
<text x="166.3" y="467.7" font-size="9.70" text-anchor="middle" font-family="'Liberation Serif', serif" stroke="#222" stroke-width="0.22">/</text>
<text x="174.3" y="467.7" font-size="9.70" text-anchor="middle" font-family="'Liberation Serif', serif" stroke="#222" stroke-width="0.22">°</text>
<text x="0" y="0" font-size="9.7" text-anchor="middle" font-family="'Liberation Serif', serif" textLength="13.9" lengthAdjust="spacingAndGlyphs" stroke="#222" stroke-width="0.22" transform="translate(12.8,320.4) rotate(-90)"><tspan font-style="italic">μ</tspan>m</text>
<text x="0" y="0" font-size="9.7" text-anchor="middle" font-family="'Liberation Serif', serif" stroke="#222" stroke-width="0.22" transform="translate(12.8,332.6) rotate(-90)">/</text>
<text x="0" y="0" font-size="9.7" text-anchor="middle" font-family="'Liberation Serif', serif" textLength="15.6" lengthAdjust="spacingAndGlyphs" stroke="#222" stroke-width="0.22" transform="translate(12.8,345.9) rotate(-90)">gap</text>
<text x="0" y="0" font-size="9.7" text-anchor="middle" font-family="'Liberation Serif', serif" textLength="13.1" lengthAdjust="spacingAndGlyphs" stroke="#222" stroke-width="0.22" transform="translate(12.8,363.2) rotate(-90)">roll</text>
<text x="0" y="0" font-size="9.7" text-anchor="middle" font-family="'Liberation Serif', serif" textLength="19.2" lengthAdjust="spacingAndGlyphs" stroke="#222" stroke-width="0.22" transform="translate(12.8,383.6) rotate(-90)">Jelly</text>
<text x="135.5" y="491.5" font-size="12" text-anchor="middle" font-family="'Liberation Serif', serif">(<tspan font-weight="bold">c</tspan>)</text>
<line x1="368.85" y1="260.30" x2="368.85" y2="446.50" stroke="#d9d9d9" stroke-width="1.15"/>
<line x1="425.90" y1="260.30" x2="425.90" y2="446.50" stroke="#d9d9d9" stroke-width="1.15"/>
<line x1="482.95" y1="260.30" x2="482.95" y2="446.50" stroke="#d9d9d9" stroke-width="1.15"/>
<line x1="311.80" y1="409.26" x2="540.00" y2="409.26" stroke="#d9d9d9" stroke-width="1.15"/>
<line x1="311.80" y1="372.02" x2="540.00" y2="372.02" stroke="#d9d9d9" stroke-width="1.15"/>
<line x1="311.80" y1="334.78" x2="540.00" y2="334.78" stroke="#d9d9d9" stroke-width="1.15"/>
<line x1="311.80" y1="297.54" x2="540.00" y2="297.54" stroke="#d9d9d9" stroke-width="1.15"/>
<polyline points="312.2,354.2 313.5,354.2 314.8,354.8 316.0,355.7 317.2,356.9 318.4,358.7 319.7,360.2 320.9,361.5 322.1,362.3 323.3,363.3 324.5,365.1 326.3,366.0 328.1,367.1 329.9,366.8 331.7,366.4 333.5,365.3 335.4,363.4 337.2,361.6 339.0,359.5 340.8,357.2 342.6,354.1 344.4,351.7 346.2,349.0 348.0,347.6 349.9,345.4 351.1,345.5 352.3,345.5 353.8,346.9 355.3,347.8 356.8,349.2 358.3,351.5 360.1,354.3 361.3,361.2 361.9,371.2 363.1,375.0 364.3,378.1 365.0,381.3 366.2,384.3 367.4,387.7 368.6,390.8 369.8,393.6 371.0,396.3 372.2,399.2 373.4,400.8 374.7,401.7 375.9,402.7 377.1,402.8 378.3,401.7 379.5,400.9 380.7,399.6 381.9,398.6 383.1,396.5 384.3,394.8 385.5,393.1 386.7,391.2 387.9,388.7 389.1,386.2 390.4,384.9 391.6,382.8 392.8,380.3 394.6,376.2 396.4,378.3 397.6,380.1 398.8,382.1 400.6,385.4 401.8,384.4 403.6,373.4 404.8,364.5 406.4,360.3 407.9,355.0 409.7,351.2 411.5,347.7 413.0,343.7 414.5,339.3 416.3,333.4 418.1,328.6 419.3,326.7 420.5,325.6 422.3,331.1 424.2,337.3 426.0,335.6 427.5,333.0 429.0,329.6 430.2,332.0 431.4,334.6 432.6,337.9 433.8,341.2 435.6,343.3 437.4,345.6 438.9,347.3 440.5,349.4 441.7,352.7 442.9,355.6 444.1,360.4 445.3,358.0 447.1,343.0 448.3,335.1 449.5,327.1 451.3,323.3 452.5,322.6 453.7,322.4 455.6,325.4 456.8,327.6 458.0,329.6 459.8,334.4 461.0,337.5 462.2,340.7 463.4,342.6 464.7,344.8 465.9,346.1 467.1,347.2 468.3,347.3 469.5,347.0 471.0,346.0 472.5,345.7 473.7,346.3 474.9,347.3 476.1,349.1 477.3,351.2 478.6,354.7 479.8,357.3 481.6,365.7 483.4,376.0 484.6,380.5 486.4,392.4 487.6,399.1 488.8,405.4 490.1,410.7 491.3,416.7 492.9,421.2 494.5,426.5 496.1,425.7 497.7,425.2 499.3,422.9 500.9,420.0 502.5,415.8 504.1,411.8 505.7,406.9 507.3,402.1 509.0,398.1 510.6,394.0 511.8,394.8 513.0,396.0 514.6,402.0 516.2,409.0 517.8,405.2 519.0,399.0 520.2,392.3 521.4,387.3 522.5,382.1 524.6,372.8 526.7,366.2 528.1,363.7 529.5,360.9 530.9,358.9 532.3,356.2 534.5,354.7 536.6,353.9 538.0,352.3 540.0,353.5" fill="none" stroke="#0072BD" stroke-width="1.10" stroke-linejoin="round" clip-path="url(#cld)"/>
<polyline points="312.1,384.9 314.2,386.1 315.6,386.4 317.0,386.5 318.4,388.2 319.9,389.8 321.3,391.5 322.7,392.7 324.1,393.2 325.5,393.4 327.6,394.2 329.4,393.2 331.1,392.6 332.5,390.7 333.9,389.9 335.4,387.6 336.8,384.4 337.8,382.9 339.6,380.4 341.4,377.9 343.2,375.2 345.0,372.7 346.8,370.5 348.6,368.7 350.2,367.8 351.9,366.7 353.5,365.3 355.3,366.8 357.1,367.6 358.3,369.4 359.5,370.7 361.3,373.9 362.5,380.5 362.8,395.5 364.2,398.0 365.6,401.4 367.4,405.7 368.6,408.6 369.8,411.3 371.0,413.8 372.2,414.9 373.4,416.1 374.7,417.2 376.2,417.9 377.7,418.7 379.2,417.4 380.7,417.0 382.5,415.1 384.3,412.9 386.1,410.0 387.9,407.7 389.4,406.0 391.0,404.2 392.5,401.1 394.0,398.6 395.5,395.9 397.0,393.6 398.2,391.2 399.4,388.1 401.2,388.7 403.0,392.5 404.9,389.3 406.4,384.4 407.9,379.6 409.4,373.0 410.9,367.0 412.7,360.9 414.5,355.2 416.3,350.6 418.1,346.2 419.9,343.1 421.7,339.4 422.9,337.3 424.2,335.6 426.0,334.3 427.5,335.5 429.0,337.0 430.5,339.1 432.0,341.5 433.5,346.1 435.0,350.5 436.5,354.0 438.0,357.9 439.6,359.8 441.1,362.5 442.9,363.3 444.7,360.0 445.9,355.9 447.1,352.2 448.3,351.2 449.5,350.5 451.3,351.5 453.1,353.0 455.0,355.2 456.2,357.4 457.4,358.7 458.6,360.5 459.8,363.1 461.0,365.2 462.2,367.9 463.4,369.6 464.7,371.2 465.9,372.1 467.1,372.9 468.3,372.5 469.5,371.1 470.7,370.4 471.9,369.8 473.7,367.4 475.5,369.4 477.1,370.9 478.6,372.6 480.1,374.4 481.6,376.5 483.2,384.3 484.8,390.3 486.4,395.9 488.0,402.2 489.7,408.9 491.3,415.3 492.9,421.6 494.5,424.7 496.1,428.1 497.7,426.6 499.3,425.8 500.9,422.2 502.5,418.6 503.8,414.9 505.2,412.0 506.5,408.9 507.9,405.6 509.2,402.1 510.6,398.7 511.8,398.1 513.0,397.6 514.6,404.0 516.7,412.1 518.0,409.5 519.4,407.3 520.7,404.5 522.1,402.0 523.4,399.6 525.0,398.0 526.7,396.0 528.3,394.3 529.9,391.8 531.5,389.4 532.8,388.6 534.2,387.4 535.5,386.9 537.0,385.8 538.5,385.5 540.0,384.5" fill="none" stroke="#D95319" stroke-width="1.10" stroke-linejoin="round" clip-path="url(#cld)"/>
<line x1="362.00" y1="324.40" x2="362.00" y2="358.00" stroke="#000" stroke-width="1.2"/>
<polygon points="358.80,357.00 365.20,357.00 362.00,368.60" fill="#000"/>
<line x1="509.70" y1="323.50" x2="509.70" y2="381.10" stroke="#000" stroke-width="1.2"/>
<polygon points="506.50,380.10 512.90,380.10 509.70,391.70" fill="#000"/>
<text x="333.6" y="308.6" font-size="9.70" text-anchor="start" font-family="'Liberation Serif', serif" textLength="56.4" lengthAdjust="spacingAndGlyphs" stroke="#222" stroke-width="0.22">End of anode</text>
<text x="327.0" y="320.0" font-size="9.70" text-anchor="start" font-family="'Liberation Serif', serif" textLength="69.0" lengthAdjust="spacingAndGlyphs" stroke="#222" stroke-width="0.22">current collector</text>
<text x="474.8" y="308.6" font-size="9.70" text-anchor="start" font-family="'Liberation Serif', serif" textLength="64.1" lengthAdjust="spacingAndGlyphs" stroke="#222" stroke-width="0.22">End of cathode</text>
<text x="475.2" y="320.0" font-size="9.70" text-anchor="start" font-family="'Liberation Serif', serif" textLength="62.3" lengthAdjust="spacingAndGlyphs" stroke="#222" stroke-width="0.22">active material</text>
<line x1="368.85" y1="446.50" x2="368.85" y2="444.20" stroke="#1e1e1e" stroke-width="1"/>
<line x1="368.85" y1="260.30" x2="368.85" y2="262.60" stroke="#1e1e1e" stroke-width="1"/>
<line x1="425.90" y1="446.50" x2="425.90" y2="444.20" stroke="#1e1e1e" stroke-width="1"/>
<line x1="425.90" y1="260.30" x2="425.90" y2="262.60" stroke="#1e1e1e" stroke-width="1"/>
<line x1="482.95" y1="446.50" x2="482.95" y2="444.20" stroke="#1e1e1e" stroke-width="1"/>
<line x1="482.95" y1="260.30" x2="482.95" y2="262.60" stroke="#1e1e1e" stroke-width="1"/>
<line x1="311.80" y1="409.26" x2="314.10" y2="409.26" stroke="#1e1e1e" stroke-width="1"/>
<line x1="540.00" y1="409.26" x2="537.70" y2="409.26" stroke="#1e1e1e" stroke-width="1"/>
<line x1="311.80" y1="372.02" x2="314.10" y2="372.02" stroke="#1e1e1e" stroke-width="1"/>
<line x1="540.00" y1="372.02" x2="537.70" y2="372.02" stroke="#1e1e1e" stroke-width="1"/>
<line x1="311.80" y1="334.78" x2="314.10" y2="334.78" stroke="#1e1e1e" stroke-width="1"/>
<line x1="540.00" y1="334.78" x2="537.70" y2="334.78" stroke="#1e1e1e" stroke-width="1"/>
<line x1="311.80" y1="297.54" x2="314.10" y2="297.54" stroke="#1e1e1e" stroke-width="1"/>
<line x1="540.00" y1="297.54" x2="537.70" y2="297.54" stroke="#1e1e1e" stroke-width="1"/>
<rect x="311.80" y="260.30" width="228.20" height="186.20" fill="none" stroke="#1e1e1e" stroke-width="1.4"/>
<rect x="440.50" y="269.30" width="91.50" height="27.70" fill="#fff" stroke="#1e1e1e" stroke-width="1.2"/>
<line x1="444.50" y1="277.10" x2="486.50" y2="277.10" stroke="#0072BD" stroke-width="1.1" stroke-opacity="0.65"/>
<line x1="444.50" y1="289.00" x2="486.50" y2="289.00" stroke="#D95319" stroke-width="1.1" stroke-opacity="0.65"/>
<text x="489.7" y="280.5" font-size="10.00" text-anchor="start" font-family="'Liberation Serif', serif" textLength="28.0" lengthAdjust="spacingAndGlyphs" stroke="#222" stroke-width="0.22">SOC 0</text>
<text x="489.7" y="292.3" font-size="10.00" text-anchor="start" font-family="'Liberation Serif', serif" textLength="37.7" lengthAdjust="spacingAndGlyphs" stroke="#222" stroke-width="0.22">SOC 100</text>
<text x="311.8" y="457.6" font-size="9.50" text-anchor="middle" font-family="'Liberation Serif', serif" stroke="#222" stroke-width="0.22">0</text>
<text x="368.9" y="457.6" font-size="9.50" text-anchor="middle" font-family="'Liberation Serif', serif" stroke="#222" stroke-width="0.22">90</text>
<text x="425.9" y="457.6" font-size="9.50" text-anchor="middle" font-family="'Liberation Serif', serif" stroke="#222" stroke-width="0.22">180</text>
<text x="483.0" y="457.6" font-size="9.50" text-anchor="middle" font-family="'Liberation Serif', serif" stroke="#222" stroke-width="0.22">270</text>
<text x="540.0" y="457.6" font-size="9.50" text-anchor="middle" font-family="'Liberation Serif', serif" stroke="#222" stroke-width="0.22">360</text>
<text x="309.8" y="449.2" font-size="9.50" text-anchor="end" font-family="'Liberation Serif', serif" textLength="4.6" lengthAdjust="spacingAndGlyphs" stroke="#222" stroke-width="0.22">0</text>
<text x="309.8" y="412.0" font-size="9.50" text-anchor="end" font-family="'Liberation Serif', serif" textLength="13.8" lengthAdjust="spacingAndGlyphs" stroke="#222" stroke-width="0.22">100</text>
<text x="309.8" y="374.7" font-size="9.50" text-anchor="end" font-family="'Liberation Serif', serif" textLength="13.8" lengthAdjust="spacingAndGlyphs" stroke="#222" stroke-width="0.22">200</text>
<text x="309.8" y="337.5" font-size="9.50" text-anchor="end" font-family="'Liberation Serif', serif" textLength="13.8" lengthAdjust="spacingAndGlyphs" stroke="#222" stroke-width="0.22">300</text>
<text x="309.8" y="300.2" font-size="9.50" text-anchor="end" font-family="'Liberation Serif', serif" textLength="13.8" lengthAdjust="spacingAndGlyphs" stroke="#222" stroke-width="0.22">400</text>
<text x="309.8" y="263.0" font-size="9.50" text-anchor="end" font-family="'Liberation Serif', serif" textLength="13.8" lengthAdjust="spacingAndGlyphs" stroke="#222" stroke-width="0.22">500</text>
<text x="397.1" y="467.7" font-size="9.70" text-anchor="start" font-family="'Liberation Serif', serif" textLength="16.8" lengthAdjust="spacingAndGlyphs" stroke="#222" stroke-width="0.22">Cell</text>
<text x="417.1" y="467.7" font-size="9.70" text-anchor="start" font-family="'Liberation Serif', serif" textLength="21.6" lengthAdjust="spacingAndGlyphs" stroke="#222" stroke-width="0.22">angle</text>
<text x="444.0" y="467.7" font-size="9.70" text-anchor="middle" font-family="'Liberation Serif', serif" stroke="#222" stroke-width="0.22">/</text>
<text x="452.0" y="467.7" font-size="9.70" text-anchor="middle" font-family="'Liberation Serif', serif" stroke="#222" stroke-width="0.22">°</text>
<text x="0" y="0" font-size="9.7" text-anchor="middle" font-family="'Liberation Serif', serif" textLength="13.9" lengthAdjust="spacingAndGlyphs" stroke="#222" stroke-width="0.22" transform="translate(291.1,320.4) rotate(-90)"><tspan font-style="italic">μ</tspan>m</text>
<text x="0" y="0" font-size="9.7" text-anchor="middle" font-family="'Liberation Serif', serif" stroke="#222" stroke-width="0.22" transform="translate(291.1,332.6) rotate(-90)">/</text>
<text x="0" y="0" font-size="9.7" text-anchor="middle" font-family="'Liberation Serif', serif" textLength="15.6" lengthAdjust="spacingAndGlyphs" stroke="#222" stroke-width="0.22" transform="translate(291.1,345.9) rotate(-90)">gap</text>
<text x="0" y="0" font-size="9.7" text-anchor="middle" font-family="'Liberation Serif', serif" textLength="13.1" lengthAdjust="spacingAndGlyphs" stroke="#222" stroke-width="0.22" transform="translate(291.1,363.2) rotate(-90)">roll</text>
<text x="0" y="0" font-size="9.7" text-anchor="middle" font-family="'Liberation Serif', serif" textLength="19.2" lengthAdjust="spacingAndGlyphs" stroke="#222" stroke-width="0.22" transform="translate(291.1,383.6) rotate(-90)">Jelly</text>
<text x="413.0" y="491.5" font-size="12" text-anchor="middle" font-family="'Liberation Serif', serif">(<tspan font-weight="bold">d</tspan>)</text></svg>
</body></html>
